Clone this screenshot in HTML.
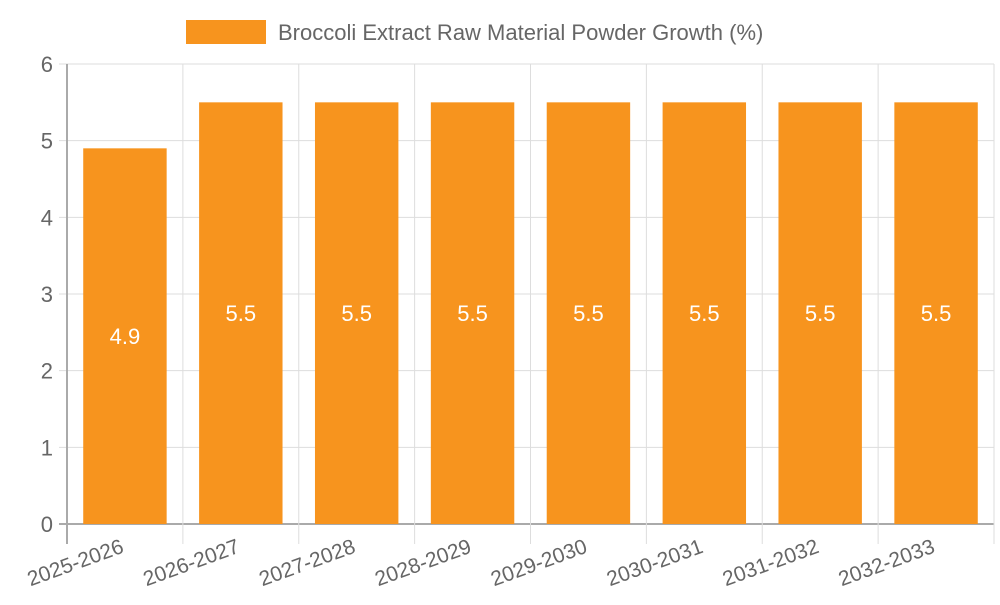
<!DOCTYPE html>
<html><head><meta charset="utf-8"><style>
body{margin:0;background:#fff;width:1000px;height:600px;overflow:hidden}
svg{font-family:"Liberation Sans",sans-serif}
</style></head><body>
<svg id="chart" width="1000" height="600">
<g>
<rect x="186" y="20" width="80" height="24" fill="#f7941e"></rect>
<text x="278" y="40" font-size="22" fill="#666">Broccoli Extract Raw Material Powder Growth (%)</text>
</g>
<g id="grid"></g><g id="bars"></g><g id="labels"></g>
</svg>
<script>
const categories=["2025-2026","2026-2027","2027-2028","2028-2029","2029-2030","2030-2031","2031-2032","2032-2033"];
const values=[4.9,5.5,5.5,5.5,5.5,5.5,5.5,5.5];
const yTicks=[0,1,2,3,4,5,6];
const L=67,R=994,T=64,B=524,yMax=6;
const cw=(R-L)/categories.length;
const y=v=>B-(v/yMax)*(B-T);
const x=i=>L+i*cw;
const NS="http://www.w3.org/2000/svg";
function mk(tag,attrs,parent){const e=document.createElementNS(NS,tag);for(const k in attrs)e.setAttribute(k,attrs[k]);parent.appendChild(e);return e;}
const grid=document.getElementById('grid'),bars=document.getElementById('bars'),labels=document.getElementById('labels');
yTicks.forEach(t=>{
 const l=mk('line',{x1:L-8,x2:R,y1:y(t),y2:y(t),stroke:t===0?'#aaa':'#ddd','stroke-width':t===0?2:1},grid);
 
 
 const tx=mk('text',{x:L-14,y:y(t)+8,'text-anchor':'end','font-size':22,fill:'#666'},grid);
 tx.textContent=t;
 
 
});
for(let i=0;i<=categories.length;i++){
 const l=mk('line',{x1:x(i),x2:x(i),y1:T,y2:B+20,stroke:i===0?'#aaa':'#ddd','stroke-width':i===0?2:1},grid);
 
 
}
categories.forEach((c,i)=>{
 const bw=cw*0.72,bx=x(i)+(cw-bw)/2;
 const r=mk('rect',{x:bx,y:y(values[i]),width:bw,height:B-y(values[i]),fill:'#f7941e'},bars);
 
 
 const v=mk('text',{x:bx+bw/2,y:(y(values[i])+B)/2+8,'text-anchor':'middle','font-size':22,fill:'#fff'},labels);
 v.textContent=values[i];
 
 
 const cx=x(i)+cw/2;
 const t=mk('text',{x:cx,y:B+28,'text-anchor':'end','font-size':21,fill:'#666',transform:`rotate(-20 ${cx} ${B+28})`},labels);
 t.textContent=c;
 
 
});
</script>
</body></html>
